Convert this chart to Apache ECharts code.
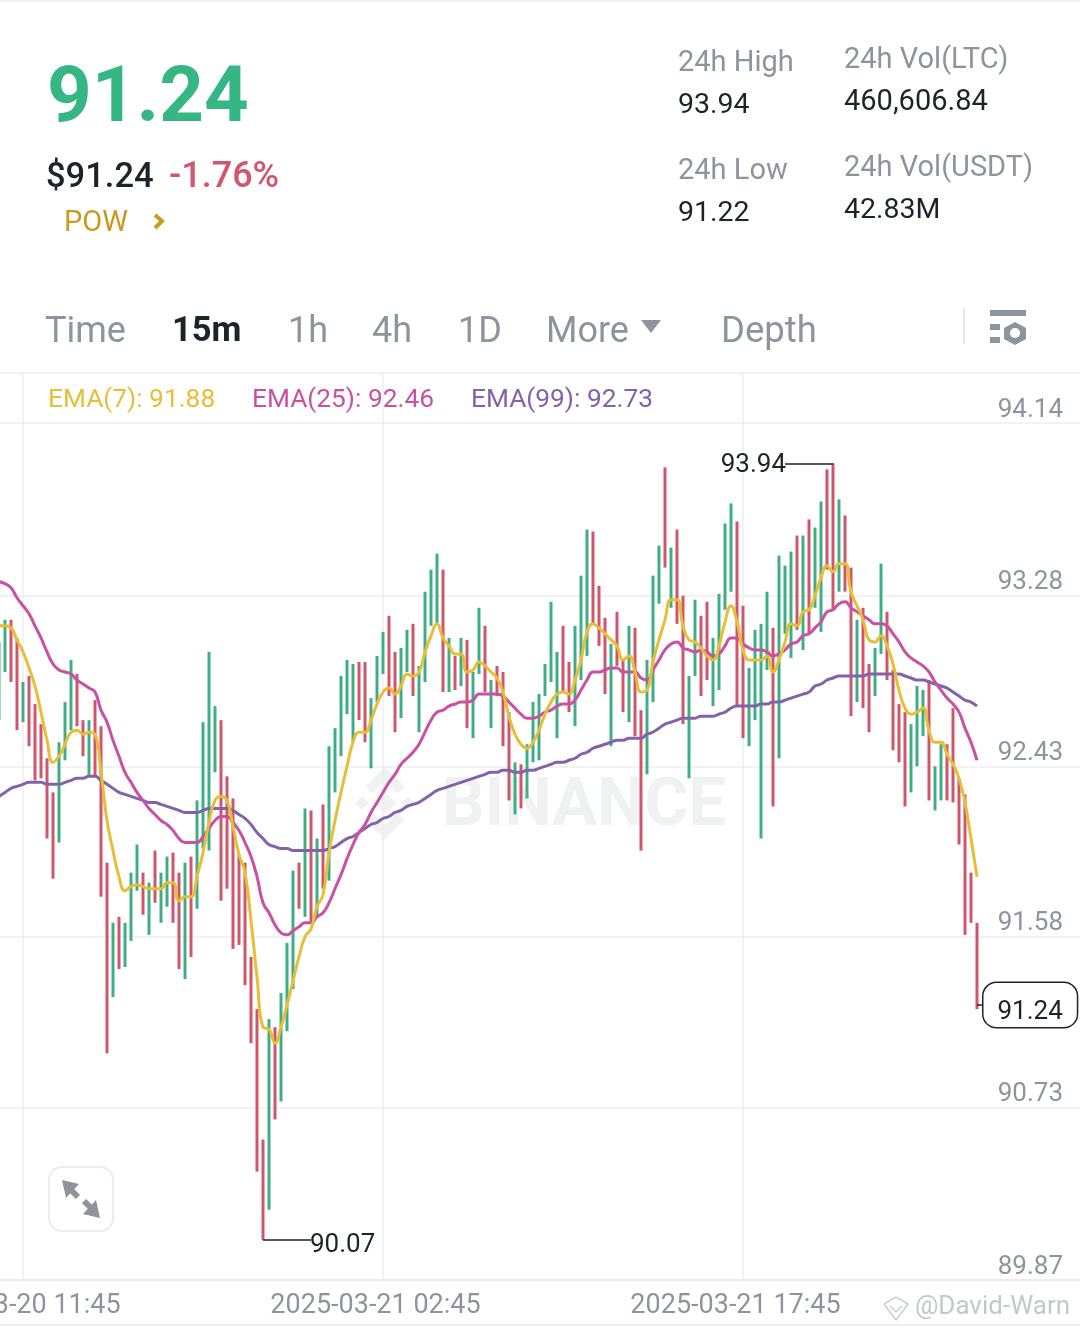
<!DOCTYPE html>
<html>
<head>
<meta charset="utf-8">
<title>LTC/USDT 15m</title>
<script src="https://cdn.jsdelivr.net/npm/echarts@6/dist/echarts.min.js"></script>
<style>
  html, body { margin: 0; padding: 0; background: #fff; }
  #chart { width: 1080px; height: 1329px; }
</style>
</head>
<body>
<div id="chart"></div>
<script>
// values, one per 15m candle
var candleHigh = [
  93.05, 93.16, 93.16, 93.07, 92.85, 92.88, 92.74, 92.64, 92.47, 92.30,
  92.55, 92.75, 92.96, 92.89, 92.66, 92.66, 92.76, 92.63, 91.95, 91.65,
  91.68, 91.65, 91.90, 92.04, 91.90, 91.85, 92.01, 91.90, 91.98, 92.00,
  91.90, 91.95, 91.98, 92.26, 92.65, 93.00, 92.73, 92.66, 92.38, 92.27,
  91.99, 91.95, 91.48, 91.22, 90.57, 91.17, 91.13, 91.30, 91.55, 91.91,
  91.95, 92.22, 92.21, 92.07, 92.24, 92.53, 92.62, 92.88, 92.96, 92.94,
  92.95, 92.95, 92.77, 92.98, 93.10, 93.18, 93.00, 93.02, 93.11, 93.14,
  92.93, 93.30, 93.41, 93.49, 93.41, 93.07, 92.98, 93.07, 93.06, 92.90,
  93.22, 93.13, 92.86, 92.93, 92.90, 92.70, 92.45, 92.44, 92.54, 92.75,
  92.79, 92.94, 93.25, 93.00, 93.13, 92.95, 93.13, 93.38, 93.61, 93.60,
  93.33, 93.17, 93.04, 93.20, 92.96, 93.13, 93.12, 92.71, 92.96, 93.38,
  93.53, 93.92, 93.52, 93.61, 93.28, 92.88, 93.26, 93.18, 93.25, 93.07,
  93.29, 93.64, 93.74, 93.65, 93.23, 92.92, 93.11, 93.14, 93.30, 93.12,
  93.48, 93.43, 93.50, 93.58, 93.58, 93.66, 93.62, 93.75, 93.91, 93.94,
  93.76, 93.68, 93.42, 93.16, 93.22, 92.94, 93.02, 93.44, 93.20, 92.91,
  92.74, 92.70, 92.64, 92.83, 92.81, 92.86, 92.43, 92.54, 92.54, 92.72,
  92.37, 92.29, 91.90, 91.65
];
var candleLow = [
  92.66, 92.90, 92.85, 92.61, 92.65, 92.53, 92.36, 92.37, 92.07, 91.87,
  92.05, 92.46, 92.61, 92.63, 92.48, 92.38, 92.38, 91.78, 91.00, 91.28,
  91.42, 91.43, 91.56, 91.81, 91.69, 91.59, 91.75, 91.65, 91.73, 91.65,
  91.42, 91.37, 91.48, 91.72, 92.02, 92.01, 92.40, 91.76, 91.82, 91.52,
  91.54, 91.34, 91.05, 90.41, 90.07, 90.22, 90.67, 90.76, 91.11, 91.32,
  91.72, 91.68, 91.65, 91.68, 91.82, 91.86, 92.30, 92.48, 92.69, 92.55,
  92.66, 92.55, 92.42, 92.75, 92.89, 92.78, 92.60, 92.67, 92.90, 92.78,
  92.60, 92.85, 93.13, 93.14, 92.80, 92.80, 92.81, 92.83, 92.62, 92.57,
  92.89, 92.80, 92.62, 92.78, 92.53, 92.26, 92.19, 92.22, 92.27, 92.45,
  92.46, 92.78, 92.85, 92.57, 92.80, 92.70, 92.63, 92.86, 92.98, 93.14,
  93.03, 92.79, 92.53, 92.93, 92.70, 92.65, 92.58, 92.01, 92.39, 92.75,
  93.24, 93.42, 93.22, 93.14, 92.64, 92.37, 92.88, 92.78, 92.86, 92.73,
  92.81, 93.21, 93.30, 92.73, 92.57, 92.53, 92.66, 92.07, 92.91, 92.23,
  92.47, 93.09, 92.97, 93.11, 93.01, 93.09, 93.22, 93.10, 93.41, 93.21,
  93.30, 93.30, 92.68, 92.75, 92.72, 92.60, 92.78, 92.99, 92.86, 92.51,
  92.45, 92.23, 92.30, 92.43, 92.58, 92.26, 92.21, 92.26, 92.26, 92.25,
  92.04, 91.59, 91.65, 91.22
];
// G = closed up, R = closed down
var candleSide = (
  'GGRRGRRRRR' + 'GGGRRGRRRG' + 'RGGGRGRGGR' + 'RGRGGGGRRR' +
  'RRRRRGRGGG' + 'RGRGRGGGGG' + 'RRGGGRRGGR' + 'GGGGRGRGRG' +
  'GRGRRRGRGG' + 'GGGGRRGGGR' + 'RRGRRGRRGG' + 'GRGRRGGRRG' +
  'GGGRRGGGGR' + 'GGGRGRGGRR' + 'GRRGRRGGRR' + 'RRGGGRGGRR' +
  'RRRR'
).split('');
var ema7 = [
  93.13, 93.13, 93.12, 93.06, 93.00, 92.92, 92.83, 92.70, 92.56, 92.45,
  92.48, 92.54, 92.60, 92.61, 92.59, 92.60, 92.59, 92.40, 92.16, 92.01,
  91.88, 91.81, 91.83, 91.84, 91.83, 91.82, 91.82, 91.82, 91.85, 91.85,
  91.76, 91.78, 91.78, 91.88, 92.00, 92.15, 92.26, 92.28, 92.26, 92.13,
  91.99, 91.90, 91.66, 91.38, 91.13, 91.12, 91.05, 91.13, 91.24, 91.36,
  91.48, 91.58, 91.62, 91.73, 91.79, 92.00, 92.16, 92.30, 92.43, 92.55,
  92.60, 92.60, 92.66, 92.74, 92.80, 92.82, 92.79, 92.83, 92.89, 92.88,
  92.90, 93.00, 93.08, 93.14, 93.07, 93.03, 92.99, 92.99, 92.90, 92.91,
  92.95, 92.93, 92.90, 92.87, 92.80, 92.68, 92.59, 92.54, 92.52, 92.55,
  92.61, 92.69, 92.75, 92.79, 92.80, 92.79, 92.86, 92.96, 93.10, 93.14,
  93.12, 93.09, 93.06, 93.03, 92.96, 92.98, 92.90, 92.80, 92.81, 92.95,
  93.06, 93.16, 93.26, 93.26, 93.13, 93.06, 93.05, 93.02, 92.98, 92.96,
  93.03, 93.15, 93.23, 93.15, 93.01, 92.96, 92.96, 92.96, 92.98, 92.90,
  92.96, 93.05, 93.14, 93.13, 93.20, 93.21, 93.28, 93.37, 93.43, 93.40,
  93.44, 93.44, 93.30, 93.23, 93.16, 93.06, 93.05, 93.08, 93.03, 92.94,
  92.81, 92.72, 92.69, 92.70, 92.72, 92.61, 92.55, 92.55, 92.49, 92.44,
  92.37, 92.25, 92.07, 91.88
];
var ema25 = [
  93.35, 93.34, 93.32, 93.27, 93.23, 93.19, 93.13, 93.07, 93.00, 92.94,
  92.91, 92.90, 92.89, 92.86, 92.84, 92.82, 92.80, 92.71, 92.65, 92.56,
  92.48, 92.40, 92.35, 92.30, 92.26, 92.22, 92.19, 92.16, 92.14, 92.11,
  92.07, 92.05, 92.05, 92.05, 92.08, 92.12, 92.16, 92.18, 92.18, 92.15,
  92.11, 92.05, 91.98, 91.88, 91.75, 91.70, 91.64, 91.60, 91.59, 91.61,
  91.63, 91.65, 91.65, 91.68, 91.70, 91.75, 91.82, 91.89, 91.97, 92.04,
  92.10, 92.14, 92.20, 92.25, 92.30, 92.35, 92.39, 92.44, 92.47, 92.50,
  92.54, 92.60, 92.66, 92.70, 92.71, 92.73, 92.74, 92.75, 92.75, 92.76,
  92.79, 92.79, 92.79, 92.79, 92.78, 92.75, 92.72, 92.69, 92.67, 92.67,
  92.68, 92.70, 92.71, 92.73, 92.74, 92.74, 92.76, 92.81, 92.86, 92.90,
  92.90, 92.91, 92.92, 92.92, 92.90, 92.90, 92.90, 92.87, 92.86, 92.91,
  92.96, 93.01, 93.04, 93.05, 93.02, 93.01, 93.00, 93.01, 93.00, 92.98,
  92.99, 93.03, 93.07, 93.07, 93.04, 93.02, 93.01, 93.01, 93.00, 92.98,
  92.99, 93.01, 93.04, 93.05, 93.08, 93.09, 93.12, 93.15, 93.20, 93.21,
  93.24, 93.25, 93.22, 93.20, 93.18, 93.16, 93.14, 93.14, 93.13, 93.09,
  93.05, 93.00, 92.97, 92.95, 92.93, 92.90, 92.85, 92.81, 92.77, 92.74,
  92.70, 92.62, 92.55, 92.46
];
var ema99 = [
  92.28, 92.30, 92.32, 92.33, 92.34, 92.35, 92.35, 92.35, 92.34, 92.34,
  92.34, 92.35, 92.36, 92.37, 92.37, 92.38, 92.38, 92.36, 92.34, 92.32,
  92.30, 92.29, 92.28, 92.27, 92.26, 92.25, 92.25, 92.24, 92.23, 92.22,
  92.21, 92.20, 92.20, 92.20, 92.21, 92.22, 92.22, 92.22, 92.22, 92.21,
  92.19, 92.17, 92.14, 92.10, 92.07, 92.04, 92.03, 92.02, 92.02, 92.01,
  92.01, 92.01, 92.01, 92.01, 92.01, 92.02, 92.03, 92.05, 92.07, 92.08,
  92.10, 92.12, 92.14, 92.15, 92.17, 92.18, 92.20, 92.21, 92.23, 92.24,
  92.25, 92.27, 92.29, 92.31, 92.32, 92.33, 92.34, 92.35, 92.36, 92.37,
  92.38, 92.39, 92.40, 92.40, 92.41, 92.41, 92.40, 92.40, 92.41, 92.41,
  92.42, 92.43, 92.44, 92.45, 92.45, 92.46, 92.47, 92.49, 92.50, 92.52,
  92.53, 92.54, 92.55, 92.56, 92.56, 92.57, 92.57, 92.57, 92.59, 92.60,
  92.62, 92.64, 92.65, 92.66, 92.67, 92.67, 92.67, 92.68, 92.68, 92.68,
  92.69, 92.70, 92.72, 92.73, 92.73, 92.73, 92.73, 92.74, 92.74, 92.75,
  92.75, 92.76, 92.77, 92.78, 92.79, 92.80, 92.83, 92.84, 92.86, 92.87,
  92.88, 92.88, 92.88, 92.88, 92.88, 92.89, 92.89, 92.89, 92.89, 92.89,
  92.89, 92.88, 92.87, 92.86, 92.86, 92.85, 92.84, 92.83, 92.82, 92.80,
  92.78, 92.76, 92.75, 92.73
];
var priceTicks = [89.87, 90.73, 91.58, 92.43, 93.28, 94.14];
var timeTicks = { 4: '2025-03-20 11:45', 64: '2025-03-21 02:45', 124: '2025-03-21 17:45' };
var highCandle = 139, lowCandle = 44, lastCandle = 163;
var lastPrice = 91.24;
var emptyCandles = 17; // free space right of the last candle

var GREEN = '#3FAE86', RED = '#D1566B', YELLOW = '#E6BE37', PINK = '#C951A3', PURPLE = '#8462AA';
var DARK = '#1E2329', GREY = '#8E949C', LINE = '#ECEEF0';
var FONT = 'Roboto';

var categories = [], candles = [];
for (var i = 0; i < candleHigh.length + emptyCandles; i++) {
  categories.push(timeTicks[i] || String(i));
  if (i < candleHigh.length) {
    candles.push(candleSide[i] === 'G'
      ? [candleLow[i], candleHigh[i], candleLow[i], candleHigh[i]]
      : [candleHigh[i], candleLow[i], candleLow[i], candleHigh[i]]);
  }
}

function txt(s, x, y, size, color, weight, align) {
  return { type: 'text', z: 10, style: { text: s, x: x, y: y, fill: color, align: align || 'left', verticalAlign: 'middle',
    font: (weight || 400) + ' ' + size + 'px ' + FONT } };
}
function rule(x1, y1, x2, y2, color, w) {
  return { type: 'line', z: 1, shape: { x1: x1, y1: y1, x2: x2, y2: y2 }, style: { stroke: color, lineWidth: w } };
}
function poly(points, color) {
  return { type: 'polygon', z: 10, shape: { points: points }, style: { fill: color } };
}
function stroke(points, color, w) {
  return { type: 'polyline', z: 10, shape: { points: points }, style: { stroke: color, lineWidth: w, fill: null } };
}
// pushes a mark label down inside a taller line box
function lowered(h, pad) {
  return { v: { lineHeight: h, verticalAlign: 'bottom', fontSize: 26, fontFamily: FONT, color: DARK, padding: [0, 0, pad || 0, 0] } };
}

var MARK = '#EFF1F2';
var graphics = [
  // quote header
  txt('91.24', 47, 101, 78, '#36B585', 700),
  txt('$91.24', 46, 178, 34.5, DARK, 500),
  txt('-1.76%', 169, 178, 36, RED, 500),
  txt('POW', 64, 224, 29, '#C99A1E'),
  stroke([[155, 215], [162, 221], [155, 228]], '#C99A1E', 4),
  txt('24h High', 678, 64, 29, GREY),
  txt('93.94', 678, 106, 28.5, DARK),
  txt('24h Low', 678, 172, 29, GREY),
  txt('91.22', 678, 214, 28.5, DARK),
  txt('24h Vol(LTC)', 844, 61, 29, GREY),
  txt('460,606.84', 844, 103, 29, DARK),
  txt('24h Vol(USDT)', 844, 169, 29, GREY),
  txt('42.83M', 844, 211, 28.5, DARK),
  // interval tabs
  txt('Time', 45, 333, 36, GREY),
  txt('15m', 172, 332, 34.5, DARK, 700),
  txt('1h', 288, 333, 36, GREY),
  txt('4h', 372, 333, 36, GREY),
  txt('1D', 458, 333, 36, GREY),
  txt('More', 546, 333, 36, GREY),
  poly([[641, 320], [661, 320], [651, 333]], GREY),
  txt('Depth', 721, 333, 36.5, GREY),
  rule(964, 308, 964, 344, '#E4E6E9', 2),
  poly([[990, 310], [1026, 310], [1026, 316], [990, 316]], GREY),
  poly([[990, 324], [1000, 324], [1000, 330], [990, 330]], GREY),
  poly([[990, 337], [1000, 337], [1000, 343], [990, 343]], GREY),
  poly([[1015, 322], [1026, 328], [1026, 339], [1015, 345], [1004, 339], [1004, 328]], GREY),
  { type: 'circle', z: 11, shape: { cx: 1015, cy: 333, r: 5 }, style: { fill: '#fff' } },
  // frame lines
  rule(0, 1, 1080, 1, '#F0F1F3', 2),
  rule(0, 373, 1080, 373, '#F0F1F3', 2),
  rule(0, 1280, 1080, 1280, '#E9EBEE', 2),
  rule(0, 1325, 1080, 1325, '#EDEFF1', 2),
  // EMA readout
  txt('EMA(7): ' + ema7[lastCandle].toFixed(2), 48, 400, 26.3, YELLOW),
  txt('EMA(25): ' + ema25[lastCandle].toFixed(2), 252, 400, 26.3, PINK),
  txt('EMA(99): ' + ema99[lastCandle].toFixed(2), 471, 400, 26.3, PURPLE),
  // watermark
  { type: 'text', z: 0, style: { text: 'BINANCE', x: 442, y: 808, fill: MARK, verticalAlign: 'middle', font: '700 67px ' + FONT } },
  { type: 'polygon', z: 0, shape: { points: [[385, 792], [396, 803], [385, 814], [374, 803]] }, style: { fill: MARK } },
  { type: 'polygon', z: 0, shape: { points: [[362, 796], [369, 803], [362, 810], [355, 803]] }, style: { fill: MARK } },
  { type: 'polygon', z: 0, shape: { points: [[408, 796], [415, 803], [408, 810], [401, 803]] }, style: { fill: MARK } },
  { type: 'polyline', z: 0, shape: { points: [[369, 790], [385, 774], [401, 790]] }, style: { stroke: MARK, lineWidth: 10, fill: null } },
  { type: 'polyline', z: 0, shape: { points: [[369, 816], [385, 832], [401, 816]] }, style: { stroke: MARK, lineWidth: 10, fill: null } },
  // expand button
  { type: 'rect', z: 10, shape: { x: 49, y: 1167, width: 64, height: 64, r: 13 }, style: { fill: '#fff', stroke: '#ECEDEF', lineWidth: 2 } },
  poly([[62, 1180], [79, 1184], [66, 1198]], GREY),
  stroke([[70, 1189], [78, 1197]], GREY, 6),
  poly([[100, 1218], [83, 1214], [96, 1200]], GREY),
  stroke([[92, 1209], [84, 1201]], GREY, 6),
  // repost credit
  stroke([[884, 1304], [896, 1297], [908, 1304], [896, 1320], [884, 1304]], '#C9CDD1', 1.5),
  stroke([[890, 1306], [896, 1312], [902, 1306]], '#C9CDD1', 1.5),
  txt('@David-Warn', 915, 1307, 26, '#C4C8CC')
];

var chart = echarts.init(document.getElementById('chart'), null, { renderer: 'canvas' });
chart.setOption({
  animation: false,
  backgroundColor: '#fff',
  textStyle: { fontFamily: FONT },
  grid: { left: -4, right: -2, top: 373, bottom: 49, containLabel: false, outerBoundsMode: 'none' },
  xAxis: {
    type: 'category',
    data: categories,
    boundaryGap: true,
    axisLine: { show: false },
    axisTick: { show: false },
    axisLabel: {
      interval: function (idx) { return !!timeTicks[idx]; },
      formatter: function (v, idx) { return timeTicks[idx] || ''; },
      color: GREY, fontSize: 27, margin: 13, padding: [0, 15, 0, 0], hideOverlap: false
    },
    splitLine: {
      show: true,
      alignWithLabel: true,
      interval: function (idx) { return !!timeTicks[idx]; },
      lineStyle: { color: LINE, width: 1.5 }
    }
  },
  yAxis: {
    type: 'value',
    position: 'right',
    min: 89.87,
    max: 94.39,
    axisLine: { show: false },
    axisTick: { show: false, customValues: priceTicks },
    axisLabel: {
      inside: true, customValues: priceTicks, margin: 19, color: GREY, fontSize: 26,
      verticalAlign: 'bottom', lineHeight: 26,
      formatter: function (v) { return v.toFixed(2); }
    },
    splitLine: { show: true, lineStyle: { color: LINE, width: 1.5 } }
  },
  series: [
    {
      type: 'candlestick',
      name: 'LTC/USDT',
      data: candles,
      barWidth: 3,
      z: 2,
      itemStyle: { color: GREEN, color0: RED, borderColor: GREEN, borderColor0: RED, borderWidth: 0 },
      markLine: {
        silent: true,
        symbol: 'none',
        lineStyle: { color: DARK, width: 1.5, type: 'solid' },
        label: { show: true, position: 'end', distance: -1, color: DARK, fontSize: 26, fontFamily: FONT },
        data: [
          [{ coord: [highCandle, candleHigh[highCandle]],
             label: { formatter: '{v|' + candleHigh[highCandle].toFixed(2) + '}', rich: lowered(30) } },
           { coord: [highCandle - 8, candleHigh[highCandle]] }],
          [{ coord: [lowCandle, candleLow[lowCandle]],
             label: { formatter: '{v|' + candleLow[lowCandle].toFixed(2) + '}', rich: lowered(38) } },
           { coord: [lowCandle + 8, candleLow[lowCandle]] }],
          [{ coord: [lastCandle, lastPrice], label: { show: false } },
           { coord: [lastCandle + 1, lastPrice] }]
        ]
      },
      markPoint: {
        silent: true,
        symbol: 'circle',
        symbolSize: 1,
        itemStyle: { color: 'rgba(0,0,0,0)' },
        data: [{
          coord: [lastCandle, lastPrice],
          label: {
            show: true, position: 'right', distance: 6,
            formatter: '{v|' + lastPrice.toFixed(2) + '}',
            rich: lowered(44, 2),
            color: DARK, fontSize: 26, fontFamily: FONT,
            backgroundColor: '#fff', borderColor: DARK, borderWidth: 1.5, borderRadius: 13,
            padding: [0, 14, 0, 14]
          }
        }]
      }
    },
    { type: 'line', name: 'EMA(99)', data: ema99, smooth: 0.5, showSymbol: false, z: 3, lineStyle: { color: PURPLE, width: 3 } },
    { type: 'line', name: 'EMA(25)', data: ema25, smooth: 0.5, showSymbol: false, z: 4, lineStyle: { color: PINK, width: 3 } },
    { type: 'line', name: 'EMA(7)', data: ema7, smooth: 0.5, showSymbol: false, z: 5, lineStyle: { color: YELLOW, width: 3 } }
  ],
  graphic: graphics
});
</script>
</body>
</html>
